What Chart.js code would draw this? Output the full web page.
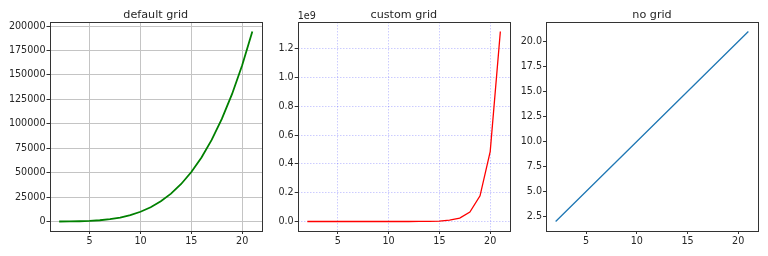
<!DOCTYPE html>
<html>
<head>
<meta charset="utf-8">
<script src="https://cdn.jsdelivr.net/npm/chart.js@4/dist/chart.umd.min.js"></script>
<style>
body { margin: 0; background: #fff; width: 768px; height: 256px; overflow: hidden; position: relative; }
canvas { position: absolute; top: 0; }
</style>
</head>
<body>
<canvas id="c1" width="270" height="256" style="left:0px"></canvas>
<canvas id="c2" width="250" height="256" style="left:270px"></canvas>
<canvas id="c3" width="250" height="256" style="left:518px"></canvas>
<script>
var xs = [2,3,4,5,6,7,8,9,10,11,12,13,14,15,16,17,18,19,20,21];
var pow4 = [16,81,256,625,1296,2401,4096,6561,10000,14641,20736,28561,38416,50625,65536,83521,104976,130321,160000,194481];
var expo = [7.389,20.09,54.60,148.4,403.4,1096.6,2981.0,8103.1,22026.5,59874.1,162754.8,442413.4,1202604.3,3269017.4,8886110.5,24154952.8,65659969.1,178482301.0,485165195.4,1318815734.5];
var lin = [2,3,4,5,6,7,8,9,10,11,12,13,14,15,16,17,18,19,20,21];

var xTicks = [5,10,15,20];
var yTicks1 = [0,25000,50000,75000,100000,125000,150000,175000,200000];
var yTicks2 = [0,0.2e9,0.4e9,0.6e9,0.8e9,1.0e9,1.2e9];
var yTicks3 = [2.5,5,7.5,10,12.5,15,17.5,20];

var titles = ['default grid', 'custom grid', 'no grid'];

Chart.defaults.font.family = 'DejaVu Sans';
Chart.defaults.font.size = 9.6;
Chart.defaults.color = '#262626';

function pts(ys) {
  var out = [];
  for (let i = 0; i < xs.length; i++) out.push({x: xs[i], y: ys[i]});
  return out;
}

// frame + title, matplotlib style
var framePlugin = {
  id: 'frame',
  afterDraw: function(chart, args, opts) {
    var a = chart.chartArea, c = chart.ctx;
    c.save();
    c.strokeStyle = '#333';
    c.lineWidth = 1;
    var l = Math.round(a.left) + 0.5, t = Math.round(a.top) + 0.5;
    var r = Math.round(a.right) + 0.5, b = Math.round(a.bottom) + 0.5;
    c.strokeRect(l, t, r - l, b - t);
    c.fillStyle = '#262626';
    c.font = '11.2px "DejaVu Sans"';
    c.textAlign = 'center';
    c.textBaseline = 'alphabetic';
    c.fillText(opts.title, (a.left + a.right) / 2, 18);
    if (opts.offset) {
      c.font = '9.6px "DejaVu Sans"';
      c.textAlign = 'left';
      c.fillText(opts.offset, a.left, 19);
    }
    c.restore();
  }
};

function makeChart(id, ys, color, width, yMin, yMax, yTicks, yFmt, yW, padR, grid, title, offset) {
  return new Chart(document.getElementById(id), {
    type: 'scatter',
    data: {
      datasets: [{
        data: pts(ys),
        showLine: true,
        borderColor: color,
        borderWidth: width,
        pointRadius: 0,
        tension: 0
      }]
    },
    options: {
      responsive: false,
      animation: false,
      events: [],
      layout: { padding: { top: 22, right: padR, left: 0, bottom: 0 } },
      plugins: {
        legend: { display: false },
        tooltip: { enabled: false },
        frame: { title: title, offset: offset }
      },
      scales: {
        x: {
          type: 'linear',
          min: 1.05,
          max: 21.95,
          afterBuildTicks: function(s) { s.ticks = xTicks.map(v => ({value: v})); },
          afterFit: function(s) { s.height = 25; },
          ticks: { padding: 2, maxRotation: 0, callback: v => String(v) },
          grid: Object.assign({ tickLength: 3, tickColor: '#333' }, grid),
          border: Object.assign({ display: false }, grid.border || {})
        },
        y: {
          type: 'linear',
          min: yMin,
          max: yMax,
          afterBuildTicks: function(s) { s.ticks = yTicks.map(v => ({value: v})); },
          afterFit: function(s) { s.width = yW; },
          ticks: { padding: 1, callback: yFmt },
          grid: Object.assign({ tickLength: 3, tickColor: '#333' }, grid),
          border: Object.assign({ display: false }, grid.border || {})
        }
      }
    },
    plugins: [framePlugin]
  });
}

makeChart('c1', pow4, '#008000', 1.8, -9707.25, 204204.25, yTicks1, v => String(v), 49.5, 8,
  { color: '#c4c4c4', lineWidth: 1 }, titles[0], null);

makeChart('c2', expo, '#ff0000', 1.3, -65940779, 1384756521, yTicks2, v => (v / 1e9).toFixed(1), 27.7, 10,
  { color: 'rgba(0,0,255,0.2)', lineWidth: 1, border: { dash: [1.5, 1.5] } }, titles[1], '1e9');

makeChart('c3', lin, '#1f77b4', 1.3, 1.05, 21.95, yTicks3, v => v.toFixed(1), 28, 10,
  { drawOnChartArea: false }, titles[2], null);
</script>
</body>
</html>
